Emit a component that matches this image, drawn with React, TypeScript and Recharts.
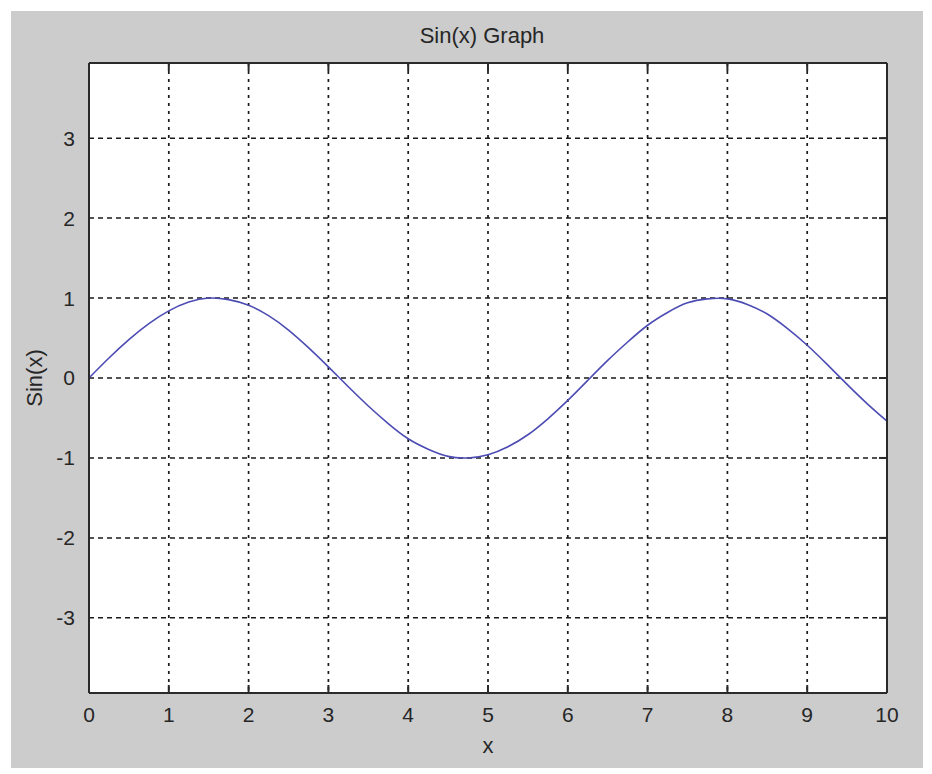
import React from 'react';
import { LineChart, Line, XAxis, YAxis, CartesianGrid } from 'recharts';

const X_VALUES = [
  0, 0.25, 0.5, 0.75, 1, 1.25, 1.5, 1.75, 2, 2.25, 2.5, 2.75, 3, 3.25, 3.5, 3.75, 4, 4.25, 4.5, 4.75,
  5, 5.25, 5.5, 5.75, 6, 6.25, 6.5, 6.75, 7, 7.25, 7.5, 7.75, 8, 8.25, 8.5, 8.75, 9, 9.25, 9.5, 9.75, 10,
];
const SIN_VALUES = [
  0, 0.25, 0.48, 0.68, 0.84, 0.95, 1.0, 0.98, 0.91, 0.78, 0.6, 0.38, 0.14, -0.11, -0.35, -0.57, -0.76, -0.89, -0.98, -1.0,
  -0.96, -0.86, -0.71, -0.51, -0.28, -0.03, 0.22, 0.45, 0.66, 0.82, 0.94, 0.99, 0.99, 0.92, 0.8, 0.62, 0.41, 0.17, -0.08, -0.32, -0.54,
];
const X_TICKS = [0, 1, 2, 3, 4, 5, 6, 7, 8, 9, 10];
const Y_TICKS = [-3, -2, -1, 0, 1, 2, 3];

const data = X_VALUES.map((x, i) => ({ x, y: SIN_VALUES[i] }));

const FONT = '"Liberation Sans", Arial, sans-serif';
const AXIS = '#2a2a2a';
const TEXT = '#262626';
const hiddenTick = { fill: 'none' };

const App: React.FC = () => {
  return (
    <div style={{ position: 'absolute', left: 0, top: 0, width: 932, height: 774, background: '#ffffff', fontFamily: FONT }}>
      <div style={{ position: 'absolute', left: 11, top: 11, width: 912, height: 757, background: '#cccccc' }} />
      <div
        style={{
          position: 'absolute', left: 83, top: 22, width: 798, textAlign: 'center',
          fontSize: 22, color: TEXT, lineHeight: '28px',
        }}
      >
        Sin(x) Graph
      </div>
      <div style={{ position: 'absolute', left: 0, top: 0 }}>
        <LineChart width={932} height={774} data={data} margin={{ top: 63, right: 45, bottom: 31, left: 29 }}>
          <CartesianGrid fill="#ffffff" stroke="#1a1a1a" strokeDasharray="5 4" strokeWidth={1.5} vertical={false} />
          <CartesianGrid fill="none" stroke="#1a1a1a" strokeDasharray="3 5" strokeWidth={1.7} horizontal={false} />
          <XAxis
            dataKey="x" type="number" domain={[0, 10]} ticks={X_TICKS} height={50}
            axisLine={{ stroke: AXIS, strokeWidth: 2 }} tickLine={false} tickMargin={8}
            tick={{ fill: TEXT, fontSize: 21, fontFamily: FONT }}
            label={{ value: 'x', position: 'insideBottom', offset: -10, fill: TEXT, fontSize: 22, fontFamily: FONT }}
          />
          <XAxis
            xAxisId="bottomTicks" dataKey="x" type="number" domain={[0, 10]} ticks={X_TICKS} orientation="bottom" mirror
            axisLine={false} tickLine={{ stroke: AXIS, strokeWidth: 2 }} tickSize={8} tick={hiddenTick} height={1}
          />
          <XAxis
            xAxisId="top" dataKey="x" type="number" domain={[0, 10]} ticks={X_TICKS} orientation="top" mirror
            axisLine={{ stroke: AXIS, strokeWidth: 2 }} tickLine={{ stroke: AXIS, strokeWidth: 2 }} tickSize={8} tick={hiddenTick} height={1}
          />
          <YAxis
            type="number" domain={[-3.94, 3.94]} ticks={Y_TICKS} width={60} allowDataOverflow
            axisLine={{ stroke: AXIS, strokeWidth: 2 }} tickLine={false} tickMargin={8}
            tick={{ fill: TEXT, fontSize: 21, fontFamily: FONT }}
            label={{ value: 'Sin(x)', angle: -90, position: 'insideLeft', offset: 5, fill: TEXT, fontSize: 22, fontFamily: FONT, style: { textAnchor: 'middle' } }}
          />
          <YAxis
            yAxisId="right" type="number" domain={[-3.94, 3.94]} ticks={Y_TICKS} orientation="right" mirror allowDataOverflow
            axisLine={{ stroke: AXIS, strokeWidth: 2 }} tickLine={{ stroke: AXIS, strokeWidth: 2 }} tickSize={8} tick={hiddenTick} width={1}
          />
          <Line
            dataKey="y" type="natural" stroke="#4c4cb4" strokeWidth={1.6} dot={false} isAnimationActive={false}
          />
        </LineChart>
      </div>
    </div>
  );
};

export default App;
